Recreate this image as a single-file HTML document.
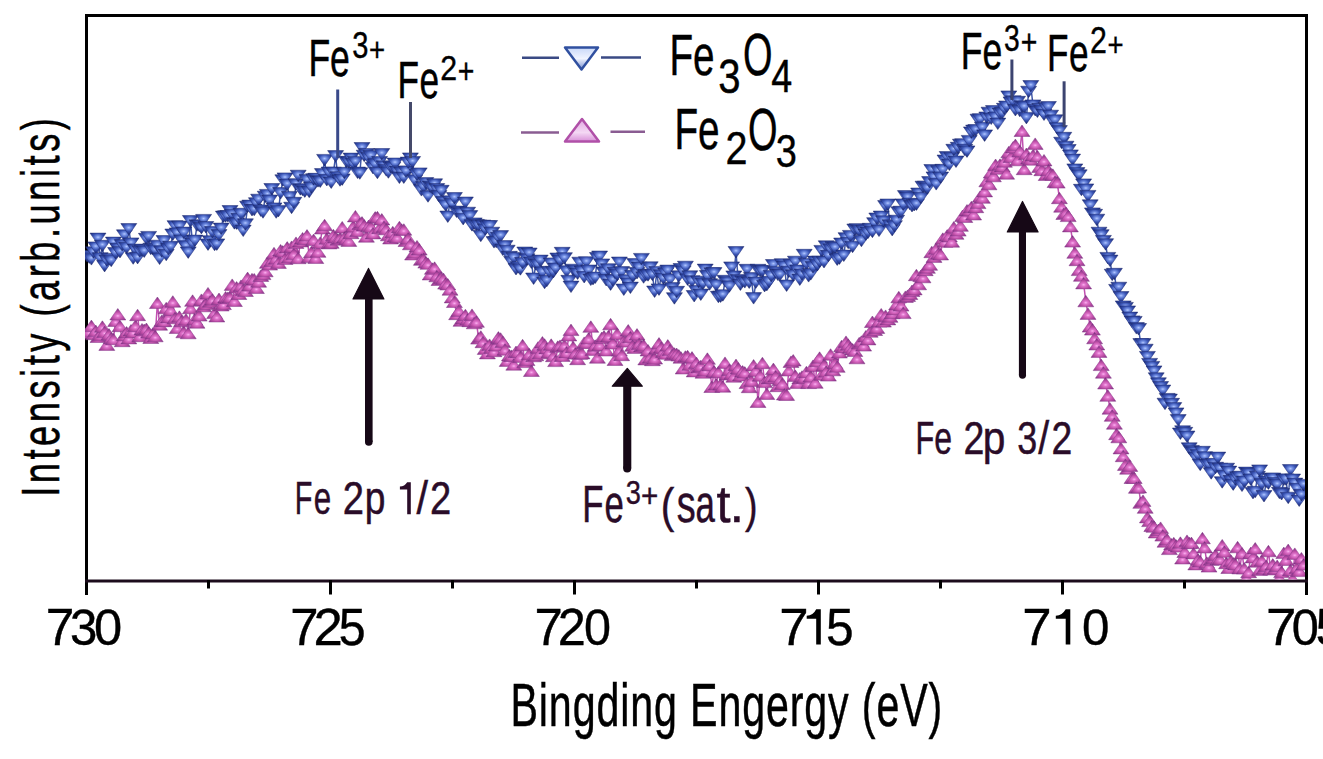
<!DOCTYPE html>
<html><head><meta charset="utf-8"><style>
html,body{margin:0;padding:0;background:#fff;overflow:hidden}
svg{display:block}
text{font-family:"Liberation Sans",sans-serif;font-kerning:none}
</style></head><body>
<svg width="1323" height="759" viewBox="0 0 1323 759">
<defs>
<radialGradient id="gb" cx="50%" cy="36%" r="58%" fx="50%" fy="36%">
<stop offset="0" stop-color="#b4c8ff"/><stop offset="0.22" stop-color="#7490e4"/><stop offset="0.55" stop-color="#3a54b4"/><stop offset="0.85" stop-color="#263a90"/><stop offset="1" stop-color="#18225e"/>
</radialGradient>
<radialGradient id="gp" cx="50%" cy="64%" r="58%" fx="50%" fy="64%">
<stop offset="0" stop-color="#fcb4f0"/><stop offset="0.22" stop-color="#e074cc"/><stop offset="0.55" stop-color="#c050a8"/><stop offset="0.85" stop-color="#9a3c92"/><stop offset="1" stop-color="#6a2a70"/>
</radialGradient>
<path id="td" d="M-8,-5.5 L8,-5.5 L0,6 Z" fill="url(#gb)" stroke="#22307a" stroke-width="0.5"/>
<path id="tu" d="M0,-6 L8,5.5 L-8,5.5 Z" fill="url(#gp)" stroke="#8c3c90" stroke-width="0.5"/>
</defs>
<rect width="1323" height="759" fill="#fff"/>

<g fill="#000">
<rect x="85" y="14" width="1223" height="3"/>
<rect x="85" y="14" width="3" height="581"/>
<rect x="1305" y="14" width="3" height="581"/>
<rect x="85" y="579.5" width="1223" height="3" fill="#1c0c1c"/>
<rect x="207.0" y="580" width="3" height="8.5"/>
<rect x="329.0" y="580" width="3" height="14.5"/>
<rect x="451.0" y="580" width="3" height="8.5"/>
<rect x="573.0" y="580" width="3" height="14.5"/>
<rect x="695.0" y="580" width="3" height="8.5"/>
<rect x="817.0" y="580" width="3" height="14.5"/>
<rect x="939.0" y="580" width="3" height="8.5"/>
<rect x="1061.0" y="580" width="3" height="14.5"/>
<rect x="1183.0" y="580" width="3" height="8.5"/>
</g>
<defs><clipPath id="pc"><rect x="85" y="17" width="1220" height="562.5"/></clipPath></defs>
<g clip-path="url(#pc)">
<path d="M87.0,255.9 L89.2,257.4 L91.4,259.1 L93.6,252.3 L95.8,247.4 L98.0,238.6 L100.2,258.2 L102.4,245.8 L104.6,265.9 L106.8,260.4 L109.0,258.9 L111.2,260.7 L113.4,242.6 L115.6,253.0 L117.8,248.8 L120.0,251.9 L122.2,245.1 L124.4,235.3 L126.6,247.8 L128.8,229.0 L131.0,243.4 L133.2,258.3 L135.4,249.6 L137.6,257.9 L139.8,251.2 L142.0,250.3 L144.2,251.5 L146.4,238.8 L148.6,236.9 L150.8,248.7 L153.0,248.9 L155.2,250.3 L157.4,245.7 L159.6,258.6 L161.8,251.2 L164.0,241.0 L166.2,254.8 L168.4,249.1 L170.6,246.8 L172.8,234.5 L175.0,226.2 L177.2,233.4 L179.4,226.5 L181.6,240.5 L183.8,232.6 L186.0,246.3 L188.2,252.4 L190.4,221.0 L192.6,243.6 L194.8,240.6 L197.0,225.3 L199.2,225.7 L201.4,227.9 L203.6,219.9 L205.8,227.0 L208.0,244.4 L210.2,241.2 L212.4,232.1 L214.6,244.8 L216.8,244.4 L219.0,235.1 L221.2,228.6 L223.4,216.6 L225.6,216.3 L227.8,216.1 L230.0,211.0 L232.2,214.7 L234.4,223.2 L236.6,223.4 L238.8,218.8 L241.0,213.8 L243.2,230.6 L245.4,224.3 L247.6,206.7 L249.8,205.6 L252.0,210.0 L254.2,209.8 L256.4,203.2 L258.6,199.7 L260.8,210.5 L263.0,212.3 L265.2,196.7 L267.4,194.9 L269.6,200.5 L271.8,189.0 L274.0,208.4 L276.2,212.3 L278.4,210.9 L280.6,193.1 L282.8,180.3 L285.0,178.4 L287.2,184.6 L289.4,196.9 L291.6,207.7 L293.8,202.8 L296.0,184.3 L298.2,175.7 L300.4,189.2 L302.6,189.7 L304.8,191.4 L307.0,180.1 L309.2,191.7 L311.4,187.5 L313.6,179.2 L315.8,178.8 L318.0,181.2 L320.2,181.5 L322.4,174.1 L324.6,159.9 L326.8,180.0 L329.0,172.6 L331.2,182.5 L333.4,172.7 L335.6,156.1 L337.8,177.2 L340.0,180.3 L342.2,179.4 L344.4,172.8 L346.6,161.8 L348.8,162.2 L351.0,158.6 L353.2,163.8 L355.4,161.9 L357.6,172.6 L359.8,173.3 L362.0,148.0 L364.2,155.7 L366.4,154.1 L368.6,157.9 L370.8,156.1 L373.0,167.9 L375.2,164.3 L377.4,172.8 L379.6,162.0 L381.8,154.0 L384.0,166.3 L386.2,170.1 L388.4,172.3 L390.6,167.0 L392.8,167.7 L395.0,163.5 L397.2,171.6 L399.4,177.6 L401.6,172.6 L403.8,177.5 L406.0,171.6 L408.2,162.6 L410.4,158.4 L412.6,162.0 L414.8,180.3 L417.0,174.7 L419.2,173.4 L421.4,190.1 L423.6,187.0 L425.8,183.1 L428.0,196.3 L430.2,186.5 L432.4,187.9 L434.6,184.3 L436.8,189.1 L439.0,196.1 L441.2,190.8 L443.4,202.1 L445.6,205.3 L447.8,216.5 L450.0,201.3 L452.2,203.7 L454.4,198.0 L456.6,211.6 L458.8,212.4 L461.0,213.4 L463.2,218.9 L465.4,202.5 L467.6,212.7 L469.8,216.1 L472.0,225.2 L474.2,223.4 L476.4,224.9 L478.6,225.4 L480.8,235.7 L483.0,225.6 L485.2,229.3 L487.4,226.3 L489.6,226.0 L491.8,232.7 L494.0,242.1 L496.2,241.8 L498.4,237.7 L500.6,236.1 L502.8,249.6 L505.0,246.1 L507.2,250.7 L509.4,256.8 L511.6,261.9 L513.8,258.0 L516.0,269.0 L518.2,267.2 L520.4,269.2 L522.6,263.0 L524.8,252.5 L527.0,259.3 L529.2,253.5 L531.4,262.5 L533.6,278.5 L535.8,264.2 L538.0,264.7 L540.2,260.6 L542.4,272.4 L544.6,282.8 L546.8,280.8 L549.0,271.8 L551.2,263.4 L553.4,271.9 L555.6,268.6 L557.8,258.5 L560.0,260.5 L562.2,252.8 L564.4,258.2 L566.6,271.3 L568.8,280.8 L571.0,286.6 L573.2,269.7 L575.4,270.9 L577.6,273.5 L579.8,262.7 L582.0,271.6 L584.2,277.0 L586.4,262.2 L588.6,270.5 L590.8,279.6 L593.0,278.9 L595.2,277.6 L597.4,258.0 L599.6,256.5 L601.8,264.4 L604.0,272.6 L606.2,280.0 L608.4,269.2 L610.6,284.4 L612.8,280.3 L615.0,272.8 L617.2,274.7 L619.4,262.5 L621.6,272.1 L623.8,289.5 L626.0,280.2 L628.2,283.4 L630.4,287.6 L632.6,275.8 L634.8,264.1 L637.0,273.0 L639.2,267.6 L641.4,258.9 L643.6,277.3 L645.8,275.1 L648.0,275.2 L650.2,267.3 L652.4,274.7 L654.6,291.5 L656.8,271.9 L659.0,289.4 L661.2,275.2 L663.4,278.5 L665.6,273.5 L667.8,270.6 L670.0,279.5 L672.2,288.1 L674.4,298.2 L676.6,291.8 L678.8,276.3 L681.0,269.0 L683.2,271.3 L685.4,266.7 L687.6,279.4 L689.8,276.3 L692.0,281.2 L694.2,296.0 L696.4,291.0 L698.6,281.7 L700.8,294.5 L703.0,283.5 L705.2,269.6 L707.4,276.0 L709.6,284.3 L711.8,273.3 L714.0,273.1 L716.2,285.2 L718.4,296.8 L720.6,296.5 L722.8,295.2 L725.0,280.8 L727.2,282.3 L729.4,286.3 L731.6,267.4 L733.8,276.4 L736.0,252.0 L738.2,280.1 L740.4,284.5 L742.6,281.3 L744.8,282.1 L747.0,269.8 L749.2,282.5 L751.4,278.1 L753.6,298.1 L755.8,282.5 L758.0,269.8 L760.2,271.0 L762.4,271.1 L764.6,285.9 L766.8,284.9 L769.0,281.8 L771.2,275.9 L773.4,265.0 L775.6,272.2 L777.8,274.5 L780.0,274.8 L782.2,264.2 L784.4,266.5 L786.6,285.5 L788.8,271.7 L791.0,264.9 L793.2,275.3 L795.4,261.7 L797.6,270.5 L799.8,279.5 L802.0,274.4 L804.2,254.8 L806.4,263.9 L808.6,276.1 L810.8,274.1 L813.0,267.1 L815.2,261.6 L817.4,265.0 L819.6,261.7 L821.8,250.9 L824.0,262.0 L826.2,246.3 L828.4,255.8 L830.6,249.2 L832.8,247.1 L835.0,247.9 L837.2,259.5 L839.4,258.4 L841.6,243.5 L843.8,255.6 L846.0,238.2 L848.2,242.8 L850.4,235.9 L852.6,246.7 L854.8,229.5 L857.0,229.3 L859.2,230.7 L861.4,240.8 L863.6,230.7 L865.8,234.5 L868.0,232.6 L870.2,228.8 L872.4,231.7 L874.6,223.2 L876.8,218.5 L879.0,230.6 L881.2,216.5 L883.4,221.3 L885.6,206.1 L887.8,204.5 L890.0,225.2 L892.2,229.9 L894.4,226.2 L896.6,220.7 L898.8,212.3 L901.0,211.7 L903.2,204.4 L905.4,196.1 L907.6,197.6 L909.8,203.8 L912.0,206.0 L914.2,205.0 L916.4,204.4 L918.6,193.5 L920.8,197.7 L923.0,186.7 L925.2,186.7 L927.4,188.3 L929.6,182.1 L931.8,170.0 L934.0,177.4 L936.2,184.1 L938.4,171.1 L940.6,177.5 L942.8,169.8 L945.0,160.5 L947.2,157.0 L949.4,164.5 L951.6,158.0 L953.8,149.8 L956.0,161.5 L958.2,147.8 L960.4,144.7 L962.6,144.3 L964.8,149.8 L967.0,151.4 L969.2,140.9 L971.4,132.4 L973.6,130.6 L975.8,130.1 L978.0,119.7 L980.2,119.2 L982.4,127.7 L984.6,135.4 L986.8,117.5 L989.0,112.7 L991.2,118.6 L993.4,111.1 L995.6,117.5 L997.8,123.6 L1000.0,113.5 L1002.2,113.1 L1004.4,108.8 L1006.6,106.5 L1008.8,96.4 L1011.0,102.4 L1013.2,101.3 L1015.4,110.0 L1017.6,101.8 L1019.8,110.8 L1022.0,106.2 L1024.2,107.1 L1026.4,117.9 L1028.6,91.7 L1030.8,86.0 L1033.0,105.4 L1035.2,110.0 L1037.4,111.6 L1039.6,108.8 L1041.8,111.0 L1044.0,114.5 L1046.2,108.1 L1048.4,107.0 L1050.6,115.7 L1052.8,121.3 L1055.0,120.3 L1057.2,128.2 L1059.4,131.1 L1061.6,142.7 L1063.8,137.8 L1066.0,146.7 L1068.2,150.0 L1070.4,155.4 L1072.6,159.6 L1074.8,169.4 L1077.0,173.1 L1079.2,175.3 L1081.4,189.8 L1083.6,184.4 L1085.8,189.4 L1088.0,195.9 L1090.2,205.3 L1092.4,213.4 L1094.6,214.8 L1096.8,219.7 L1099.0,232.7 L1101.2,235.2 L1103.4,240.9 L1105.6,244.2 L1107.8,257.9 L1110.0,260.6 L1112.2,274.7 L1114.4,273.8 L1116.6,289.9 L1118.8,287.7 L1121.0,297.0 L1123.2,306.4 L1125.4,307.9 L1127.6,311.4 L1129.8,317.6 L1132.0,321.4 L1134.2,321.9 L1136.4,328.1 L1138.6,329.0 L1140.8,344.1 L1143.0,344.1 L1145.2,349.7 L1147.4,356.9 L1149.6,363.9 L1151.8,366.9 L1154.0,371.4 L1156.2,378.3 L1158.4,383.3 L1160.6,387.0 L1162.8,390.5 L1165.0,403.7 L1167.2,398.9 L1169.4,399.6 L1171.6,403.8 L1173.8,408.1 L1176.0,413.4 L1178.2,420.1 L1180.4,433.5 L1182.6,431.3 L1184.8,432.8 L1187.0,436.5 L1189.2,448.3 L1191.4,450.9 L1193.6,452.3 L1195.8,457.5 L1198.0,455.1 L1200.2,464.7 L1202.4,451.8 L1204.6,457.2 L1206.8,464.4 L1209.0,464.6 L1211.2,473.2 L1213.4,463.9 L1215.6,467.7 L1217.8,457.6 L1220.0,468.8 L1222.2,482.2 L1224.4,476.1 L1226.6,468.7 L1228.8,471.6 L1231.0,480.8 L1233.2,484.4 L1235.4,479.4 L1237.6,477.3 L1239.8,476.7 L1242.0,485.6 L1244.2,481.5 L1246.4,472.6 L1248.6,473.8 L1250.8,479.5 L1253.0,492.9 L1255.2,491.8 L1257.4,476.7 L1259.6,470.4 L1261.8,484.2 L1264.0,496.0 L1266.2,481.6 L1268.4,483.4 L1270.6,478.8 L1272.8,478.5 L1275.0,483.1 L1277.2,484.8 L1279.4,492.8 L1281.6,494.0 L1283.8,479.6 L1286.0,479.4 L1288.2,497.7 L1290.4,470.0 L1292.6,479.5 L1294.8,483.6 L1297.0,488.8 L1299.2,500.5 L1301.4,495.1 L1303.6,484.9" fill="none" stroke="#4058a8" stroke-width="1.5"/>
<g><use href="#td" x="87.0" y="255.9"/><use href="#td" x="89.2" y="257.4"/><use href="#td" x="91.4" y="259.1"/><use href="#td" x="93.6" y="252.3"/><use href="#td" x="95.8" y="247.4"/><use href="#td" x="98.0" y="238.6"/><use href="#td" x="100.2" y="258.2"/><use href="#td" x="102.4" y="245.8"/><use href="#td" x="104.6" y="265.9"/><use href="#td" x="106.8" y="260.4"/><use href="#td" x="109.0" y="258.9"/><use href="#td" x="111.2" y="260.7"/><use href="#td" x="113.4" y="242.6"/><use href="#td" x="115.6" y="253.0"/><use href="#td" x="117.8" y="248.8"/><use href="#td" x="120.0" y="251.9"/><use href="#td" x="122.2" y="245.1"/><use href="#td" x="124.4" y="235.3"/><use href="#td" x="126.6" y="247.8"/><use href="#td" x="128.8" y="229.0"/><use href="#td" x="131.0" y="243.4"/><use href="#td" x="133.2" y="258.3"/><use href="#td" x="135.4" y="249.6"/><use href="#td" x="137.6" y="257.9"/><use href="#td" x="139.8" y="251.2"/><use href="#td" x="142.0" y="250.3"/><use href="#td" x="144.2" y="251.5"/><use href="#td" x="146.4" y="238.8"/><use href="#td" x="148.6" y="236.9"/><use href="#td" x="150.8" y="248.7"/><use href="#td" x="153.0" y="248.9"/><use href="#td" x="155.2" y="250.3"/><use href="#td" x="157.4" y="245.7"/><use href="#td" x="159.6" y="258.6"/><use href="#td" x="161.8" y="251.2"/><use href="#td" x="164.0" y="241.0"/><use href="#td" x="166.2" y="254.8"/><use href="#td" x="168.4" y="249.1"/><use href="#td" x="170.6" y="246.8"/><use href="#td" x="172.8" y="234.5"/><use href="#td" x="175.0" y="226.2"/><use href="#td" x="177.2" y="233.4"/><use href="#td" x="179.4" y="226.5"/><use href="#td" x="181.6" y="240.5"/><use href="#td" x="183.8" y="232.6"/><use href="#td" x="186.0" y="246.3"/><use href="#td" x="188.2" y="252.4"/><use href="#td" x="190.4" y="221.0"/><use href="#td" x="192.6" y="243.6"/><use href="#td" x="194.8" y="240.6"/><use href="#td" x="197.0" y="225.3"/><use href="#td" x="199.2" y="225.7"/><use href="#td" x="201.4" y="227.9"/><use href="#td" x="203.6" y="219.9"/><use href="#td" x="205.8" y="227.0"/><use href="#td" x="208.0" y="244.4"/><use href="#td" x="210.2" y="241.2"/><use href="#td" x="212.4" y="232.1"/><use href="#td" x="214.6" y="244.8"/><use href="#td" x="216.8" y="244.4"/><use href="#td" x="219.0" y="235.1"/><use href="#td" x="221.2" y="228.6"/><use href="#td" x="223.4" y="216.6"/><use href="#td" x="225.6" y="216.3"/><use href="#td" x="227.8" y="216.1"/><use href="#td" x="230.0" y="211.0"/><use href="#td" x="232.2" y="214.7"/><use href="#td" x="234.4" y="223.2"/><use href="#td" x="236.6" y="223.4"/><use href="#td" x="238.8" y="218.8"/><use href="#td" x="241.0" y="213.8"/><use href="#td" x="243.2" y="230.6"/><use href="#td" x="245.4" y="224.3"/><use href="#td" x="247.6" y="206.7"/><use href="#td" x="249.8" y="205.6"/><use href="#td" x="252.0" y="210.0"/><use href="#td" x="254.2" y="209.8"/><use href="#td" x="256.4" y="203.2"/><use href="#td" x="258.6" y="199.7"/><use href="#td" x="260.8" y="210.5"/><use href="#td" x="263.0" y="212.3"/><use href="#td" x="265.2" y="196.7"/><use href="#td" x="267.4" y="194.9"/><use href="#td" x="269.6" y="200.5"/><use href="#td" x="271.8" y="189.0"/><use href="#td" x="274.0" y="208.4"/><use href="#td" x="276.2" y="212.3"/><use href="#td" x="278.4" y="210.9"/><use href="#td" x="280.6" y="193.1"/><use href="#td" x="282.8" y="180.3"/><use href="#td" x="285.0" y="178.4"/><use href="#td" x="287.2" y="184.6"/><use href="#td" x="289.4" y="196.9"/><use href="#td" x="291.6" y="207.7"/><use href="#td" x="293.8" y="202.8"/><use href="#td" x="296.0" y="184.3"/><use href="#td" x="298.2" y="175.7"/><use href="#td" x="300.4" y="189.2"/><use href="#td" x="302.6" y="189.7"/><use href="#td" x="304.8" y="191.4"/><use href="#td" x="307.0" y="180.1"/><use href="#td" x="309.2" y="191.7"/><use href="#td" x="311.4" y="187.5"/><use href="#td" x="313.6" y="179.2"/><use href="#td" x="315.8" y="178.8"/><use href="#td" x="318.0" y="181.2"/><use href="#td" x="320.2" y="181.5"/><use href="#td" x="322.4" y="174.1"/><use href="#td" x="324.6" y="159.9"/><use href="#td" x="326.8" y="180.0"/><use href="#td" x="329.0" y="172.6"/><use href="#td" x="331.2" y="182.5"/><use href="#td" x="333.4" y="172.7"/><use href="#td" x="335.6" y="156.1"/><use href="#td" x="337.8" y="177.2"/><use href="#td" x="340.0" y="180.3"/><use href="#td" x="342.2" y="179.4"/><use href="#td" x="344.4" y="172.8"/><use href="#td" x="346.6" y="161.8"/><use href="#td" x="348.8" y="162.2"/><use href="#td" x="351.0" y="158.6"/><use href="#td" x="353.2" y="163.8"/><use href="#td" x="355.4" y="161.9"/><use href="#td" x="357.6" y="172.6"/><use href="#td" x="359.8" y="173.3"/><use href="#td" x="362.0" y="148.0"/><use href="#td" x="364.2" y="155.7"/><use href="#td" x="366.4" y="154.1"/><use href="#td" x="368.6" y="157.9"/><use href="#td" x="370.8" y="156.1"/><use href="#td" x="373.0" y="167.9"/><use href="#td" x="375.2" y="164.3"/><use href="#td" x="377.4" y="172.8"/><use href="#td" x="379.6" y="162.0"/><use href="#td" x="381.8" y="154.0"/><use href="#td" x="384.0" y="166.3"/><use href="#td" x="386.2" y="170.1"/><use href="#td" x="388.4" y="172.3"/><use href="#td" x="390.6" y="167.0"/><use href="#td" x="392.8" y="167.7"/><use href="#td" x="395.0" y="163.5"/><use href="#td" x="397.2" y="171.6"/><use href="#td" x="399.4" y="177.6"/><use href="#td" x="401.6" y="172.6"/><use href="#td" x="403.8" y="177.5"/><use href="#td" x="406.0" y="171.6"/><use href="#td" x="408.2" y="162.6"/><use href="#td" x="410.4" y="158.4"/><use href="#td" x="412.6" y="162.0"/><use href="#td" x="414.8" y="180.3"/><use href="#td" x="417.0" y="174.7"/><use href="#td" x="419.2" y="173.4"/><use href="#td" x="421.4" y="190.1"/><use href="#td" x="423.6" y="187.0"/><use href="#td" x="425.8" y="183.1"/><use href="#td" x="428.0" y="196.3"/><use href="#td" x="430.2" y="186.5"/><use href="#td" x="432.4" y="187.9"/><use href="#td" x="434.6" y="184.3"/><use href="#td" x="436.8" y="189.1"/><use href="#td" x="439.0" y="196.1"/><use href="#td" x="441.2" y="190.8"/><use href="#td" x="443.4" y="202.1"/><use href="#td" x="445.6" y="205.3"/><use href="#td" x="447.8" y="216.5"/><use href="#td" x="450.0" y="201.3"/><use href="#td" x="452.2" y="203.7"/><use href="#td" x="454.4" y="198.0"/><use href="#td" x="456.6" y="211.6"/><use href="#td" x="458.8" y="212.4"/><use href="#td" x="461.0" y="213.4"/><use href="#td" x="463.2" y="218.9"/><use href="#td" x="465.4" y="202.5"/><use href="#td" x="467.6" y="212.7"/><use href="#td" x="469.8" y="216.1"/><use href="#td" x="472.0" y="225.2"/><use href="#td" x="474.2" y="223.4"/><use href="#td" x="476.4" y="224.9"/><use href="#td" x="478.6" y="225.4"/><use href="#td" x="480.8" y="235.7"/><use href="#td" x="483.0" y="225.6"/><use href="#td" x="485.2" y="229.3"/><use href="#td" x="487.4" y="226.3"/><use href="#td" x="489.6" y="226.0"/><use href="#td" x="491.8" y="232.7"/><use href="#td" x="494.0" y="242.1"/><use href="#td" x="496.2" y="241.8"/><use href="#td" x="498.4" y="237.7"/><use href="#td" x="500.6" y="236.1"/><use href="#td" x="502.8" y="249.6"/><use href="#td" x="505.0" y="246.1"/><use href="#td" x="507.2" y="250.7"/><use href="#td" x="509.4" y="256.8"/><use href="#td" x="511.6" y="261.9"/><use href="#td" x="513.8" y="258.0"/><use href="#td" x="516.0" y="269.0"/><use href="#td" x="518.2" y="267.2"/><use href="#td" x="520.4" y="269.2"/><use href="#td" x="522.6" y="263.0"/><use href="#td" x="524.8" y="252.5"/><use href="#td" x="527.0" y="259.3"/><use href="#td" x="529.2" y="253.5"/><use href="#td" x="531.4" y="262.5"/><use href="#td" x="533.6" y="278.5"/><use href="#td" x="535.8" y="264.2"/><use href="#td" x="538.0" y="264.7"/><use href="#td" x="540.2" y="260.6"/><use href="#td" x="542.4" y="272.4"/><use href="#td" x="544.6" y="282.8"/><use href="#td" x="546.8" y="280.8"/><use href="#td" x="549.0" y="271.8"/><use href="#td" x="551.2" y="263.4"/><use href="#td" x="553.4" y="271.9"/><use href="#td" x="555.6" y="268.6"/><use href="#td" x="557.8" y="258.5"/><use href="#td" x="560.0" y="260.5"/><use href="#td" x="562.2" y="252.8"/><use href="#td" x="564.4" y="258.2"/><use href="#td" x="566.6" y="271.3"/><use href="#td" x="568.8" y="280.8"/><use href="#td" x="571.0" y="286.6"/><use href="#td" x="573.2" y="269.7"/><use href="#td" x="575.4" y="270.9"/><use href="#td" x="577.6" y="273.5"/><use href="#td" x="579.8" y="262.7"/><use href="#td" x="582.0" y="271.6"/><use href="#td" x="584.2" y="277.0"/><use href="#td" x="586.4" y="262.2"/><use href="#td" x="588.6" y="270.5"/><use href="#td" x="590.8" y="279.6"/><use href="#td" x="593.0" y="278.9"/><use href="#td" x="595.2" y="277.6"/><use href="#td" x="597.4" y="258.0"/><use href="#td" x="599.6" y="256.5"/><use href="#td" x="601.8" y="264.4"/><use href="#td" x="604.0" y="272.6"/><use href="#td" x="606.2" y="280.0"/><use href="#td" x="608.4" y="269.2"/><use href="#td" x="610.6" y="284.4"/><use href="#td" x="612.8" y="280.3"/><use href="#td" x="615.0" y="272.8"/><use href="#td" x="617.2" y="274.7"/><use href="#td" x="619.4" y="262.5"/><use href="#td" x="621.6" y="272.1"/><use href="#td" x="623.8" y="289.5"/><use href="#td" x="626.0" y="280.2"/><use href="#td" x="628.2" y="283.4"/><use href="#td" x="630.4" y="287.6"/><use href="#td" x="632.6" y="275.8"/><use href="#td" x="634.8" y="264.1"/><use href="#td" x="637.0" y="273.0"/><use href="#td" x="639.2" y="267.6"/><use href="#td" x="641.4" y="258.9"/><use href="#td" x="643.6" y="277.3"/><use href="#td" x="645.8" y="275.1"/><use href="#td" x="648.0" y="275.2"/><use href="#td" x="650.2" y="267.3"/><use href="#td" x="652.4" y="274.7"/><use href="#td" x="654.6" y="291.5"/><use href="#td" x="656.8" y="271.9"/><use href="#td" x="659.0" y="289.4"/><use href="#td" x="661.2" y="275.2"/><use href="#td" x="663.4" y="278.5"/><use href="#td" x="665.6" y="273.5"/><use href="#td" x="667.8" y="270.6"/><use href="#td" x="670.0" y="279.5"/><use href="#td" x="672.2" y="288.1"/><use href="#td" x="674.4" y="298.2"/><use href="#td" x="676.6" y="291.8"/><use href="#td" x="678.8" y="276.3"/><use href="#td" x="681.0" y="269.0"/><use href="#td" x="683.2" y="271.3"/><use href="#td" x="685.4" y="266.7"/><use href="#td" x="687.6" y="279.4"/><use href="#td" x="689.8" y="276.3"/><use href="#td" x="692.0" y="281.2"/><use href="#td" x="694.2" y="296.0"/><use href="#td" x="696.4" y="291.0"/><use href="#td" x="698.6" y="281.7"/><use href="#td" x="700.8" y="294.5"/><use href="#td" x="703.0" y="283.5"/><use href="#td" x="705.2" y="269.6"/><use href="#td" x="707.4" y="276.0"/><use href="#td" x="709.6" y="284.3"/><use href="#td" x="711.8" y="273.3"/><use href="#td" x="714.0" y="273.1"/><use href="#td" x="716.2" y="285.2"/><use href="#td" x="718.4" y="296.8"/><use href="#td" x="720.6" y="296.5"/><use href="#td" x="722.8" y="295.2"/><use href="#td" x="725.0" y="280.8"/><use href="#td" x="727.2" y="282.3"/><use href="#td" x="729.4" y="286.3"/><use href="#td" x="731.6" y="267.4"/><use href="#td" x="733.8" y="276.4"/><use href="#td" x="736.0" y="252.0"/><use href="#td" x="738.2" y="280.1"/><use href="#td" x="740.4" y="284.5"/><use href="#td" x="742.6" y="281.3"/><use href="#td" x="744.8" y="282.1"/><use href="#td" x="747.0" y="269.8"/><use href="#td" x="749.2" y="282.5"/><use href="#td" x="751.4" y="278.1"/><use href="#td" x="753.6" y="298.1"/><use href="#td" x="755.8" y="282.5"/><use href="#td" x="758.0" y="269.8"/><use href="#td" x="760.2" y="271.0"/><use href="#td" x="762.4" y="271.1"/><use href="#td" x="764.6" y="285.9"/><use href="#td" x="766.8" y="284.9"/><use href="#td" x="769.0" y="281.8"/><use href="#td" x="771.2" y="275.9"/><use href="#td" x="773.4" y="265.0"/><use href="#td" x="775.6" y="272.2"/><use href="#td" x="777.8" y="274.5"/><use href="#td" x="780.0" y="274.8"/><use href="#td" x="782.2" y="264.2"/><use href="#td" x="784.4" y="266.5"/><use href="#td" x="786.6" y="285.5"/><use href="#td" x="788.8" y="271.7"/><use href="#td" x="791.0" y="264.9"/><use href="#td" x="793.2" y="275.3"/><use href="#td" x="795.4" y="261.7"/><use href="#td" x="797.6" y="270.5"/><use href="#td" x="799.8" y="279.5"/><use href="#td" x="802.0" y="274.4"/><use href="#td" x="804.2" y="254.8"/><use href="#td" x="806.4" y="263.9"/><use href="#td" x="808.6" y="276.1"/><use href="#td" x="810.8" y="274.1"/><use href="#td" x="813.0" y="267.1"/><use href="#td" x="815.2" y="261.6"/><use href="#td" x="817.4" y="265.0"/><use href="#td" x="819.6" y="261.7"/><use href="#td" x="821.8" y="250.9"/><use href="#td" x="824.0" y="262.0"/><use href="#td" x="826.2" y="246.3"/><use href="#td" x="828.4" y="255.8"/><use href="#td" x="830.6" y="249.2"/><use href="#td" x="832.8" y="247.1"/><use href="#td" x="835.0" y="247.9"/><use href="#td" x="837.2" y="259.5"/><use href="#td" x="839.4" y="258.4"/><use href="#td" x="841.6" y="243.5"/><use href="#td" x="843.8" y="255.6"/><use href="#td" x="846.0" y="238.2"/><use href="#td" x="848.2" y="242.8"/><use href="#td" x="850.4" y="235.9"/><use href="#td" x="852.6" y="246.7"/><use href="#td" x="854.8" y="229.5"/><use href="#td" x="857.0" y="229.3"/><use href="#td" x="859.2" y="230.7"/><use href="#td" x="861.4" y="240.8"/><use href="#td" x="863.6" y="230.7"/><use href="#td" x="865.8" y="234.5"/><use href="#td" x="868.0" y="232.6"/><use href="#td" x="870.2" y="228.8"/><use href="#td" x="872.4" y="231.7"/><use href="#td" x="874.6" y="223.2"/><use href="#td" x="876.8" y="218.5"/><use href="#td" x="879.0" y="230.6"/><use href="#td" x="881.2" y="216.5"/><use href="#td" x="883.4" y="221.3"/><use href="#td" x="885.6" y="206.1"/><use href="#td" x="887.8" y="204.5"/><use href="#td" x="890.0" y="225.2"/><use href="#td" x="892.2" y="229.9"/><use href="#td" x="894.4" y="226.2"/><use href="#td" x="896.6" y="220.7"/><use href="#td" x="898.8" y="212.3"/><use href="#td" x="901.0" y="211.7"/><use href="#td" x="903.2" y="204.4"/><use href="#td" x="905.4" y="196.1"/><use href="#td" x="907.6" y="197.6"/><use href="#td" x="909.8" y="203.8"/><use href="#td" x="912.0" y="206.0"/><use href="#td" x="914.2" y="205.0"/><use href="#td" x="916.4" y="204.4"/><use href="#td" x="918.6" y="193.5"/><use href="#td" x="920.8" y="197.7"/><use href="#td" x="923.0" y="186.7"/><use href="#td" x="925.2" y="186.7"/><use href="#td" x="927.4" y="188.3"/><use href="#td" x="929.6" y="182.1"/><use href="#td" x="931.8" y="170.0"/><use href="#td" x="934.0" y="177.4"/><use href="#td" x="936.2" y="184.1"/><use href="#td" x="938.4" y="171.1"/><use href="#td" x="940.6" y="177.5"/><use href="#td" x="942.8" y="169.8"/><use href="#td" x="945.0" y="160.5"/><use href="#td" x="947.2" y="157.0"/><use href="#td" x="949.4" y="164.5"/><use href="#td" x="951.6" y="158.0"/><use href="#td" x="953.8" y="149.8"/><use href="#td" x="956.0" y="161.5"/><use href="#td" x="958.2" y="147.8"/><use href="#td" x="960.4" y="144.7"/><use href="#td" x="962.6" y="144.3"/><use href="#td" x="964.8" y="149.8"/><use href="#td" x="967.0" y="151.4"/><use href="#td" x="969.2" y="140.9"/><use href="#td" x="971.4" y="132.4"/><use href="#td" x="973.6" y="130.6"/><use href="#td" x="975.8" y="130.1"/><use href="#td" x="978.0" y="119.7"/><use href="#td" x="980.2" y="119.2"/><use href="#td" x="982.4" y="127.7"/><use href="#td" x="984.6" y="135.4"/><use href="#td" x="986.8" y="117.5"/><use href="#td" x="989.0" y="112.7"/><use href="#td" x="991.2" y="118.6"/><use href="#td" x="993.4" y="111.1"/><use href="#td" x="995.6" y="117.5"/><use href="#td" x="997.8" y="123.6"/><use href="#td" x="1000.0" y="113.5"/><use href="#td" x="1002.2" y="113.1"/><use href="#td" x="1004.4" y="108.8"/><use href="#td" x="1006.6" y="106.5"/><use href="#td" x="1008.8" y="96.4"/><use href="#td" x="1011.0" y="102.4"/><use href="#td" x="1013.2" y="101.3"/><use href="#td" x="1015.4" y="110.0"/><use href="#td" x="1017.6" y="101.8"/><use href="#td" x="1019.8" y="110.8"/><use href="#td" x="1022.0" y="106.2"/><use href="#td" x="1024.2" y="107.1"/><use href="#td" x="1026.4" y="117.9"/><use href="#td" x="1028.6" y="91.7"/><use href="#td" x="1030.8" y="86.0"/><use href="#td" x="1033.0" y="105.4"/><use href="#td" x="1035.2" y="110.0"/><use href="#td" x="1037.4" y="111.6"/><use href="#td" x="1039.6" y="108.8"/><use href="#td" x="1041.8" y="111.0"/><use href="#td" x="1044.0" y="114.5"/><use href="#td" x="1046.2" y="108.1"/><use href="#td" x="1048.4" y="107.0"/><use href="#td" x="1050.6" y="115.7"/><use href="#td" x="1052.8" y="121.3"/><use href="#td" x="1055.0" y="120.3"/><use href="#td" x="1057.2" y="128.2"/><use href="#td" x="1059.4" y="131.1"/><use href="#td" x="1061.6" y="142.7"/><use href="#td" x="1063.8" y="137.8"/><use href="#td" x="1066.0" y="146.7"/><use href="#td" x="1068.2" y="150.0"/><use href="#td" x="1070.4" y="155.4"/><use href="#td" x="1072.6" y="159.6"/><use href="#td" x="1074.8" y="169.4"/><use href="#td" x="1077.0" y="173.1"/><use href="#td" x="1079.2" y="175.3"/><use href="#td" x="1081.4" y="189.8"/><use href="#td" x="1083.6" y="184.4"/><use href="#td" x="1085.8" y="189.4"/><use href="#td" x="1088.0" y="195.9"/><use href="#td" x="1090.2" y="205.3"/><use href="#td" x="1092.4" y="213.4"/><use href="#td" x="1094.6" y="214.8"/><use href="#td" x="1096.8" y="219.7"/><use href="#td" x="1099.0" y="232.7"/><use href="#td" x="1101.2" y="235.2"/><use href="#td" x="1103.4" y="240.9"/><use href="#td" x="1105.6" y="244.2"/><use href="#td" x="1107.8" y="257.9"/><use href="#td" x="1110.0" y="260.6"/><use href="#td" x="1112.2" y="274.7"/><use href="#td" x="1114.4" y="273.8"/><use href="#td" x="1116.6" y="289.9"/><use href="#td" x="1118.8" y="287.7"/><use href="#td" x="1121.0" y="297.0"/><use href="#td" x="1123.2" y="306.4"/><use href="#td" x="1125.4" y="307.9"/><use href="#td" x="1127.6" y="311.4"/><use href="#td" x="1129.8" y="317.6"/><use href="#td" x="1132.0" y="321.4"/><use href="#td" x="1134.2" y="321.9"/><use href="#td" x="1136.4" y="328.1"/><use href="#td" x="1138.6" y="329.0"/><use href="#td" x="1140.8" y="344.1"/><use href="#td" x="1143.0" y="344.1"/><use href="#td" x="1145.2" y="349.7"/><use href="#td" x="1147.4" y="356.9"/><use href="#td" x="1149.6" y="363.9"/><use href="#td" x="1151.8" y="366.9"/><use href="#td" x="1154.0" y="371.4"/><use href="#td" x="1156.2" y="378.3"/><use href="#td" x="1158.4" y="383.3"/><use href="#td" x="1160.6" y="387.0"/><use href="#td" x="1162.8" y="390.5"/><use href="#td" x="1165.0" y="403.7"/><use href="#td" x="1167.2" y="398.9"/><use href="#td" x="1169.4" y="399.6"/><use href="#td" x="1171.6" y="403.8"/><use href="#td" x="1173.8" y="408.1"/><use href="#td" x="1176.0" y="413.4"/><use href="#td" x="1178.2" y="420.1"/><use href="#td" x="1180.4" y="433.5"/><use href="#td" x="1182.6" y="431.3"/><use href="#td" x="1184.8" y="432.8"/><use href="#td" x="1187.0" y="436.5"/><use href="#td" x="1189.2" y="448.3"/><use href="#td" x="1191.4" y="450.9"/><use href="#td" x="1193.6" y="452.3"/><use href="#td" x="1195.8" y="457.5"/><use href="#td" x="1198.0" y="455.1"/><use href="#td" x="1200.2" y="464.7"/><use href="#td" x="1202.4" y="451.8"/><use href="#td" x="1204.6" y="457.2"/><use href="#td" x="1206.8" y="464.4"/><use href="#td" x="1209.0" y="464.6"/><use href="#td" x="1211.2" y="473.2"/><use href="#td" x="1213.4" y="463.9"/><use href="#td" x="1215.6" y="467.7"/><use href="#td" x="1217.8" y="457.6"/><use href="#td" x="1220.0" y="468.8"/><use href="#td" x="1222.2" y="482.2"/><use href="#td" x="1224.4" y="476.1"/><use href="#td" x="1226.6" y="468.7"/><use href="#td" x="1228.8" y="471.6"/><use href="#td" x="1231.0" y="480.8"/><use href="#td" x="1233.2" y="484.4"/><use href="#td" x="1235.4" y="479.4"/><use href="#td" x="1237.6" y="477.3"/><use href="#td" x="1239.8" y="476.7"/><use href="#td" x="1242.0" y="485.6"/><use href="#td" x="1244.2" y="481.5"/><use href="#td" x="1246.4" y="472.6"/><use href="#td" x="1248.6" y="473.8"/><use href="#td" x="1250.8" y="479.5"/><use href="#td" x="1253.0" y="492.9"/><use href="#td" x="1255.2" y="491.8"/><use href="#td" x="1257.4" y="476.7"/><use href="#td" x="1259.6" y="470.4"/><use href="#td" x="1261.8" y="484.2"/><use href="#td" x="1264.0" y="496.0"/><use href="#td" x="1266.2" y="481.6"/><use href="#td" x="1268.4" y="483.4"/><use href="#td" x="1270.6" y="478.8"/><use href="#td" x="1272.8" y="478.5"/><use href="#td" x="1275.0" y="483.1"/><use href="#td" x="1277.2" y="484.8"/><use href="#td" x="1279.4" y="492.8"/><use href="#td" x="1281.6" y="494.0"/><use href="#td" x="1283.8" y="479.6"/><use href="#td" x="1286.0" y="479.4"/><use href="#td" x="1288.2" y="497.7"/><use href="#td" x="1290.4" y="470.0"/><use href="#td" x="1292.6" y="479.5"/><use href="#td" x="1294.8" y="483.6"/><use href="#td" x="1297.0" y="488.8"/><use href="#td" x="1299.2" y="500.5"/><use href="#td" x="1301.4" y="495.1"/><use href="#td" x="1303.6" y="484.9"/></g>
<path d="M87.0,332.9 L89.2,331.7 L91.4,326.1 L93.6,334.2 L95.8,331.1 L98.0,337.0 L100.2,335.1 L102.4,326.8 L104.6,332.0 L106.8,344.9 L109.0,334.6 L111.2,338.2 L113.4,339.2 L115.6,321.0 L117.8,314.5 L120.0,326.2 L122.2,341.2 L124.4,335.2 L126.6,332.5 L128.8,338.4 L131.0,330.5 L133.2,332.0 L135.4,326.0 L137.6,315.2 L139.8,336.2 L142.0,329.4 L144.2,330.1 L146.4,329.0 L148.6,332.6 L150.8,338.0 L153.0,333.5 L155.2,336.3 L157.4,303.0 L159.6,324.7 L161.8,320.9 L164.0,321.2 L166.2,308.3 L168.4,317.4 L170.6,310.0 L172.8,301.7 L175.0,318.3 L177.2,328.0 L179.4,316.8 L181.6,321.0 L183.8,332.3 L186.0,319.7 L188.2,333.3 L190.4,308.3 L192.6,300.8 L194.8,319.5 L197.0,322.7 L199.2,315.6 L201.4,299.9 L203.6,306.3 L205.8,304.1 L208.0,293.4 L210.2,301.8 L212.4,299.7 L214.6,313.1 L216.8,316.5 L219.0,299.0 L221.2,305.5 L223.4,304.1 L225.6,297.4 L227.8,297.9 L230.0,297.3 L232.2,284.9 L234.4,301.0 L236.6,287.5 L238.8,294.0 L241.0,285.9 L243.2,289.9 L245.4,291.0 L247.6,278.1 L249.8,285.5 L252.0,279.3 L254.2,279.4 L256.4,288.0 L258.6,281.7 L260.8,275.9 L263.0,274.1 L265.2,271.3 L267.4,262.8 L269.6,264.6 L271.8,261.0 L274.0,253.3 L276.2,258.7 L278.4,262.9 L280.6,250.4 L282.8,251.6 L285.0,258.9 L287.2,247.6 L289.4,257.3 L291.6,246.9 L293.8,254.1 L296.0,242.9 L298.2,258.2 L300.4,241.4 L302.6,238.4 L304.8,239.1 L307.0,235.6 L309.2,257.0 L311.4,252.3 L313.6,240.0 L315.8,258.0 L318.0,251.8 L320.2,242.9 L322.4,228.5 L324.6,225.2 L326.8,238.8 L329.0,243.4 L331.2,242.8 L333.4,235.3 L335.6,237.6 L337.8,239.7 L340.0,238.6 L342.2,227.4 L344.4,237.6 L346.6,239.1 L348.8,240.9 L351.0,233.2 L353.2,226.6 L355.4,216.4 L357.6,231.0 L359.8,223.9 L362.0,222.6 L364.2,225.5 L366.4,236.7 L368.6,226.0 L370.8,227.1 L373.0,233.4 L375.2,217.6 L377.4,217.3 L379.6,228.3 L381.8,219.5 L384.0,226.9 L386.2,229.3 L388.4,235.3 L390.6,238.5 L392.8,232.3 L395.0,236.4 L397.2,237.3 L399.4,227.2 L401.6,229.8 L403.8,229.7 L406.0,241.0 L408.2,238.7 L410.4,244.3 L412.6,254.5 L414.8,252.6 L417.0,246.4 L419.2,249.6 L421.4,259.8 L423.6,259.1 L425.8,262.6 L428.0,263.8 L430.2,274.5 L432.4,268.8 L434.6,267.8 L436.8,276.3 L439.0,280.0 L441.2,277.9 L443.4,279.0 L445.6,283.6 L447.8,284.5 L450.0,289.7 L452.2,297.4 L454.4,302.0 L456.6,314.2 L458.8,310.9 L461.0,320.8 L463.2,318.4 L465.4,315.2 L467.6,319.6 L469.8,321.2 L472.0,314.9 L474.2,323.3 L476.4,321.8 L478.6,338.6 L480.8,336.7 L483.0,342.2 L485.2,348.9 L487.4,353.4 L489.6,344.9 L491.8,348.1 L494.0,351.2 L496.2,345.5 L498.4,337.6 L500.6,338.7 L502.8,341.9 L505.0,349.7 L507.2,360.9 L509.4,355.5 L511.6,355.9 L513.8,364.7 L516.0,352.0 L518.2,352.3 L520.4,356.9 L522.6,345.3 L524.8,362.1 L527.0,360.1 L529.2,354.3 L531.4,371.0 L533.6,356.3 L535.8,355.3 L538.0,347.7 L540.2,353.3 L542.4,342.5 L544.6,344.7 L546.8,348.4 L549.0,352.3 L551.2,344.8 L553.4,356.2 L555.6,361.1 L557.8,346.8 L560.0,345.9 L562.2,355.9 L564.4,345.4 L566.6,352.4 L568.8,335.5 L571.0,330.1 L573.2,347.2 L575.4,353.6 L577.6,359.2 L579.8,353.8 L582.0,353.4 L584.2,342.9 L586.4,342.8 L588.6,338.6 L590.8,326.8 L593.0,349.9 L595.2,345.8 L597.4,357.7 L599.6,345.0 L601.8,338.0 L604.0,336.6 L606.2,350.5 L608.4,336.3 L610.6,324.3 L612.8,343.5 L615.0,360.0 L617.2,333.9 L619.4,350.6 L621.6,355.2 L623.8,341.0 L626.0,341.6 L628.2,330.5 L630.4,337.3 L632.6,345.8 L634.8,347.9 L637.0,334.6 L639.2,344.0 L641.4,346.5 L643.6,345.3 L645.8,359.4 L648.0,350.5 L650.2,357.7 L652.4,360.2 L654.6,358.6 L656.8,348.5 L659.0,343.6 L661.2,347.7 L663.4,351.9 L665.6,353.8 L667.8,345.6 L670.0,350.1 L672.2,355.1 L674.4,353.7 L676.6,354.0 L678.8,355.5 L681.0,357.7 L683.2,368.5 L685.4,356.7 L687.6,356.3 L689.8,364.8 L692.0,357.6 L694.2,371.4 L696.4,363.0 L698.6,367.5 L700.8,366.2 L703.0,372.7 L705.2,370.6 L707.4,358.8 L709.6,365.2 L711.8,387.0 L714.0,371.6 L716.2,384.6 L718.4,372.2 L720.6,384.4 L722.8,386.7 L725.0,362.9 L727.2,374.5 L729.4,370.0 L731.6,373.9 L733.8,376.7 L736.0,365.1 L738.2,368.6 L740.4,375.5 L742.6,371.5 L744.8,372.6 L747.0,383.1 L749.2,387.2 L751.4,380.9 L753.6,365.5 L755.8,370.9 L758.0,402.0 L760.2,375.7 L762.4,363.2 L764.6,382.1 L766.8,394.0 L769.0,378.5 L771.2,378.0 L773.4,369.1 L775.6,376.5 L777.8,386.2 L780.0,380.0 L782.2,384.0 L784.4,394.5 L786.6,394.9 L788.8,370.5 L791.0,361.9 L793.2,360.5 L795.4,376.0 L797.6,383.0 L799.8,378.4 L802.0,376.7 L804.2,377.7 L806.4,372.2 L808.6,383.1 L810.8,376.6 L813.0,365.9 L815.2,382.8 L817.4,361.3 L819.6,357.8 L821.8,374.7 L824.0,365.3 L826.2,371.7 L828.4,375.6 L830.6,354.7 L832.8,370.3 L835.0,363.2 L837.2,366.8 L839.4,352.5 L841.6,346.3 L843.8,347.2 L846.0,341.9 L848.2,344.8 L850.4,347.8 L852.6,349.4 L854.8,351.0 L857.0,358.3 L859.2,343.3 L861.4,341.8 L863.6,345.6 L865.8,336.5 L868.0,339.4 L870.2,331.7 L872.4,322.0 L874.6,330.0 L876.8,327.9 L879.0,321.6 L881.2,314.4 L883.4,321.6 L885.6,315.9 L887.8,319.4 L890.0,316.8 L892.2,313.2 L894.4,309.4 L896.6,304.4 L898.8,297.3 L901.0,305.6 L903.2,313.1 L905.4,296.9 L907.6,295.9 L909.8,294.0 L912.0,291.0 L914.2,289.4 L916.4,275.2 L918.6,284.3 L920.8,276.1 L923.0,277.3 L925.2,270.2 L927.4,267.8 L929.6,264.8 L931.8,252.2 L934.0,256.9 L936.2,248.8 L938.4,253.7 L940.6,254.5 L942.8,238.8 L945.0,241.7 L947.2,235.6 L949.4,236.4 L951.6,241.7 L953.8,227.5 L956.0,233.8 L958.2,230.6 L960.4,225.8 L962.6,216.0 L964.8,217.0 L967.0,210.5 L969.2,210.4 L971.4,207.2 L973.6,214.5 L975.8,207.2 L978.0,203.1 L980.2,196.8 L982.4,197.8 L984.6,191.4 L986.8,181.3 L989.0,184.3 L991.2,172.6 L993.4,176.3 L995.6,165.0 L997.8,168.8 L1000.0,164.8 L1002.2,166.4 L1004.4,161.7 L1006.6,173.7 L1008.8,152.3 L1011.0,157.0 L1013.2,147.4 L1015.4,145.1 L1017.6,160.3 L1019.8,151.2 L1022.0,131.0 L1024.2,169.2 L1026.4,154.0 L1028.6,158.4 L1030.8,159.7 L1033.0,155.4 L1035.2,143.9 L1037.4,156.3 L1039.6,167.0 L1041.8,170.2 L1044.0,160.4 L1046.2,175.0 L1048.4,170.3 L1050.6,174.1 L1052.8,174.8 L1055.0,182.0 L1057.2,182.6 L1059.4,198.2 L1061.6,206.7 L1063.8,214.0 L1066.0,213.0 L1068.2,216.1 L1070.4,226.4 L1072.6,241.6 L1074.8,252.8 L1077.0,260.2 L1079.2,270.1 L1081.4,275.8 L1083.6,283.4 L1085.8,301.3 L1088.0,313.9 L1090.2,326.6 L1092.4,329.6 L1094.6,338.3 L1096.8,344.5 L1099.0,351.9 L1101.2,365.1 L1103.4,372.7 L1105.6,383.5 L1107.8,395.8 L1110.0,408.7 L1112.2,415.8 L1114.4,423.7 L1116.6,434.2 L1118.8,437.3 L1121.0,448.4 L1123.2,456.2 L1125.4,464.9 L1127.6,468.7 L1129.8,465.9 L1132.0,478.0 L1134.2,478.0 L1136.4,487.8 L1138.6,487.5 L1140.8,502.8 L1143.0,500.9 L1145.2,507.8 L1147.4,517.4 L1149.6,521.1 L1151.8,526.0 L1154.0,526.8 L1156.2,532.5 L1158.4,530.0 L1160.6,527.9 L1162.8,535.6 L1165.0,541.7 L1167.2,539.6 L1169.4,549.1 L1171.6,544.4 L1173.8,543.3 L1176.0,545.6 L1178.2,546.6 L1180.4,542.8 L1182.6,558.5 L1184.8,552.0 L1187.0,540.9 L1189.2,543.1 L1191.4,543.1 L1193.6,553.4 L1195.8,564.4 L1198.0,559.7 L1200.2,561.6 L1202.4,538.3 L1204.6,547.5 L1206.8,562.8 L1209.0,566.6 L1211.2,559.7 L1213.4,557.9 L1215.6,555.1 L1217.8,559.6 L1220.0,559.2 L1222.2,545.4 L1224.4,551.8 L1226.6,563.2 L1228.8,568.0 L1231.0,560.9 L1233.2,563.4 L1235.4,564.4 L1237.6,547.3 L1239.8,568.4 L1242.0,553.4 L1244.2,568.4 L1246.4,578.1 L1248.6,572.2 L1250.8,553.1 L1253.0,557.4 L1255.2,548.5 L1257.4,561.7 L1259.6,569.9 L1261.8,560.7 L1264.0,568.8 L1266.2,566.1 L1268.4,551.3 L1270.6,569.5 L1272.8,564.6 L1275.0,568.7 L1277.2,566.0 L1279.4,578.2 L1281.6,572.1 L1283.8,553.1 L1286.0,560.0 L1288.2,550.1 L1290.4,570.2 L1292.6,579.0 L1294.8,553.9 L1297.0,567.9 L1299.2,571.1 L1301.4,558.4 L1303.6,564.6" fill="none" stroke="#c050b0" stroke-width="1.5"/>
<g><use href="#tu" x="87.0" y="332.9"/><use href="#tu" x="89.2" y="331.7"/><use href="#tu" x="91.4" y="326.1"/><use href="#tu" x="93.6" y="334.2"/><use href="#tu" x="95.8" y="331.1"/><use href="#tu" x="98.0" y="337.0"/><use href="#tu" x="100.2" y="335.1"/><use href="#tu" x="102.4" y="326.8"/><use href="#tu" x="104.6" y="332.0"/><use href="#tu" x="106.8" y="344.9"/><use href="#tu" x="109.0" y="334.6"/><use href="#tu" x="111.2" y="338.2"/><use href="#tu" x="113.4" y="339.2"/><use href="#tu" x="115.6" y="321.0"/><use href="#tu" x="117.8" y="314.5"/><use href="#tu" x="120.0" y="326.2"/><use href="#tu" x="122.2" y="341.2"/><use href="#tu" x="124.4" y="335.2"/><use href="#tu" x="126.6" y="332.5"/><use href="#tu" x="128.8" y="338.4"/><use href="#tu" x="131.0" y="330.5"/><use href="#tu" x="133.2" y="332.0"/><use href="#tu" x="135.4" y="326.0"/><use href="#tu" x="137.6" y="315.2"/><use href="#tu" x="139.8" y="336.2"/><use href="#tu" x="142.0" y="329.4"/><use href="#tu" x="144.2" y="330.1"/><use href="#tu" x="146.4" y="329.0"/><use href="#tu" x="148.6" y="332.6"/><use href="#tu" x="150.8" y="338.0"/><use href="#tu" x="153.0" y="333.5"/><use href="#tu" x="155.2" y="336.3"/><use href="#tu" x="157.4" y="303.0"/><use href="#tu" x="159.6" y="324.7"/><use href="#tu" x="161.8" y="320.9"/><use href="#tu" x="164.0" y="321.2"/><use href="#tu" x="166.2" y="308.3"/><use href="#tu" x="168.4" y="317.4"/><use href="#tu" x="170.6" y="310.0"/><use href="#tu" x="172.8" y="301.7"/><use href="#tu" x="175.0" y="318.3"/><use href="#tu" x="177.2" y="328.0"/><use href="#tu" x="179.4" y="316.8"/><use href="#tu" x="181.6" y="321.0"/><use href="#tu" x="183.8" y="332.3"/><use href="#tu" x="186.0" y="319.7"/><use href="#tu" x="188.2" y="333.3"/><use href="#tu" x="190.4" y="308.3"/><use href="#tu" x="192.6" y="300.8"/><use href="#tu" x="194.8" y="319.5"/><use href="#tu" x="197.0" y="322.7"/><use href="#tu" x="199.2" y="315.6"/><use href="#tu" x="201.4" y="299.9"/><use href="#tu" x="203.6" y="306.3"/><use href="#tu" x="205.8" y="304.1"/><use href="#tu" x="208.0" y="293.4"/><use href="#tu" x="210.2" y="301.8"/><use href="#tu" x="212.4" y="299.7"/><use href="#tu" x="214.6" y="313.1"/><use href="#tu" x="216.8" y="316.5"/><use href="#tu" x="219.0" y="299.0"/><use href="#tu" x="221.2" y="305.5"/><use href="#tu" x="223.4" y="304.1"/><use href="#tu" x="225.6" y="297.4"/><use href="#tu" x="227.8" y="297.9"/><use href="#tu" x="230.0" y="297.3"/><use href="#tu" x="232.2" y="284.9"/><use href="#tu" x="234.4" y="301.0"/><use href="#tu" x="236.6" y="287.5"/><use href="#tu" x="238.8" y="294.0"/><use href="#tu" x="241.0" y="285.9"/><use href="#tu" x="243.2" y="289.9"/><use href="#tu" x="245.4" y="291.0"/><use href="#tu" x="247.6" y="278.1"/><use href="#tu" x="249.8" y="285.5"/><use href="#tu" x="252.0" y="279.3"/><use href="#tu" x="254.2" y="279.4"/><use href="#tu" x="256.4" y="288.0"/><use href="#tu" x="258.6" y="281.7"/><use href="#tu" x="260.8" y="275.9"/><use href="#tu" x="263.0" y="274.1"/><use href="#tu" x="265.2" y="271.3"/><use href="#tu" x="267.4" y="262.8"/><use href="#tu" x="269.6" y="264.6"/><use href="#tu" x="271.8" y="261.0"/><use href="#tu" x="274.0" y="253.3"/><use href="#tu" x="276.2" y="258.7"/><use href="#tu" x="278.4" y="262.9"/><use href="#tu" x="280.6" y="250.4"/><use href="#tu" x="282.8" y="251.6"/><use href="#tu" x="285.0" y="258.9"/><use href="#tu" x="287.2" y="247.6"/><use href="#tu" x="289.4" y="257.3"/><use href="#tu" x="291.6" y="246.9"/><use href="#tu" x="293.8" y="254.1"/><use href="#tu" x="296.0" y="242.9"/><use href="#tu" x="298.2" y="258.2"/><use href="#tu" x="300.4" y="241.4"/><use href="#tu" x="302.6" y="238.4"/><use href="#tu" x="304.8" y="239.1"/><use href="#tu" x="307.0" y="235.6"/><use href="#tu" x="309.2" y="257.0"/><use href="#tu" x="311.4" y="252.3"/><use href="#tu" x="313.6" y="240.0"/><use href="#tu" x="315.8" y="258.0"/><use href="#tu" x="318.0" y="251.8"/><use href="#tu" x="320.2" y="242.9"/><use href="#tu" x="322.4" y="228.5"/><use href="#tu" x="324.6" y="225.2"/><use href="#tu" x="326.8" y="238.8"/><use href="#tu" x="329.0" y="243.4"/><use href="#tu" x="331.2" y="242.8"/><use href="#tu" x="333.4" y="235.3"/><use href="#tu" x="335.6" y="237.6"/><use href="#tu" x="337.8" y="239.7"/><use href="#tu" x="340.0" y="238.6"/><use href="#tu" x="342.2" y="227.4"/><use href="#tu" x="344.4" y="237.6"/><use href="#tu" x="346.6" y="239.1"/><use href="#tu" x="348.8" y="240.9"/><use href="#tu" x="351.0" y="233.2"/><use href="#tu" x="353.2" y="226.6"/><use href="#tu" x="355.4" y="216.4"/><use href="#tu" x="357.6" y="231.0"/><use href="#tu" x="359.8" y="223.9"/><use href="#tu" x="362.0" y="222.6"/><use href="#tu" x="364.2" y="225.5"/><use href="#tu" x="366.4" y="236.7"/><use href="#tu" x="368.6" y="226.0"/><use href="#tu" x="370.8" y="227.1"/><use href="#tu" x="373.0" y="233.4"/><use href="#tu" x="375.2" y="217.6"/><use href="#tu" x="377.4" y="217.3"/><use href="#tu" x="379.6" y="228.3"/><use href="#tu" x="381.8" y="219.5"/><use href="#tu" x="384.0" y="226.9"/><use href="#tu" x="386.2" y="229.3"/><use href="#tu" x="388.4" y="235.3"/><use href="#tu" x="390.6" y="238.5"/><use href="#tu" x="392.8" y="232.3"/><use href="#tu" x="395.0" y="236.4"/><use href="#tu" x="397.2" y="237.3"/><use href="#tu" x="399.4" y="227.2"/><use href="#tu" x="401.6" y="229.8"/><use href="#tu" x="403.8" y="229.7"/><use href="#tu" x="406.0" y="241.0"/><use href="#tu" x="408.2" y="238.7"/><use href="#tu" x="410.4" y="244.3"/><use href="#tu" x="412.6" y="254.5"/><use href="#tu" x="414.8" y="252.6"/><use href="#tu" x="417.0" y="246.4"/><use href="#tu" x="419.2" y="249.6"/><use href="#tu" x="421.4" y="259.8"/><use href="#tu" x="423.6" y="259.1"/><use href="#tu" x="425.8" y="262.6"/><use href="#tu" x="428.0" y="263.8"/><use href="#tu" x="430.2" y="274.5"/><use href="#tu" x="432.4" y="268.8"/><use href="#tu" x="434.6" y="267.8"/><use href="#tu" x="436.8" y="276.3"/><use href="#tu" x="439.0" y="280.0"/><use href="#tu" x="441.2" y="277.9"/><use href="#tu" x="443.4" y="279.0"/><use href="#tu" x="445.6" y="283.6"/><use href="#tu" x="447.8" y="284.5"/><use href="#tu" x="450.0" y="289.7"/><use href="#tu" x="452.2" y="297.4"/><use href="#tu" x="454.4" y="302.0"/><use href="#tu" x="456.6" y="314.2"/><use href="#tu" x="458.8" y="310.9"/><use href="#tu" x="461.0" y="320.8"/><use href="#tu" x="463.2" y="318.4"/><use href="#tu" x="465.4" y="315.2"/><use href="#tu" x="467.6" y="319.6"/><use href="#tu" x="469.8" y="321.2"/><use href="#tu" x="472.0" y="314.9"/><use href="#tu" x="474.2" y="323.3"/><use href="#tu" x="476.4" y="321.8"/><use href="#tu" x="478.6" y="338.6"/><use href="#tu" x="480.8" y="336.7"/><use href="#tu" x="483.0" y="342.2"/><use href="#tu" x="485.2" y="348.9"/><use href="#tu" x="487.4" y="353.4"/><use href="#tu" x="489.6" y="344.9"/><use href="#tu" x="491.8" y="348.1"/><use href="#tu" x="494.0" y="351.2"/><use href="#tu" x="496.2" y="345.5"/><use href="#tu" x="498.4" y="337.6"/><use href="#tu" x="500.6" y="338.7"/><use href="#tu" x="502.8" y="341.9"/><use href="#tu" x="505.0" y="349.7"/><use href="#tu" x="507.2" y="360.9"/><use href="#tu" x="509.4" y="355.5"/><use href="#tu" x="511.6" y="355.9"/><use href="#tu" x="513.8" y="364.7"/><use href="#tu" x="516.0" y="352.0"/><use href="#tu" x="518.2" y="352.3"/><use href="#tu" x="520.4" y="356.9"/><use href="#tu" x="522.6" y="345.3"/><use href="#tu" x="524.8" y="362.1"/><use href="#tu" x="527.0" y="360.1"/><use href="#tu" x="529.2" y="354.3"/><use href="#tu" x="531.4" y="371.0"/><use href="#tu" x="533.6" y="356.3"/><use href="#tu" x="535.8" y="355.3"/><use href="#tu" x="538.0" y="347.7"/><use href="#tu" x="540.2" y="353.3"/><use href="#tu" x="542.4" y="342.5"/><use href="#tu" x="544.6" y="344.7"/><use href="#tu" x="546.8" y="348.4"/><use href="#tu" x="549.0" y="352.3"/><use href="#tu" x="551.2" y="344.8"/><use href="#tu" x="553.4" y="356.2"/><use href="#tu" x="555.6" y="361.1"/><use href="#tu" x="557.8" y="346.8"/><use href="#tu" x="560.0" y="345.9"/><use href="#tu" x="562.2" y="355.9"/><use href="#tu" x="564.4" y="345.4"/><use href="#tu" x="566.6" y="352.4"/><use href="#tu" x="568.8" y="335.5"/><use href="#tu" x="571.0" y="330.1"/><use href="#tu" x="573.2" y="347.2"/><use href="#tu" x="575.4" y="353.6"/><use href="#tu" x="577.6" y="359.2"/><use href="#tu" x="579.8" y="353.8"/><use href="#tu" x="582.0" y="353.4"/><use href="#tu" x="584.2" y="342.9"/><use href="#tu" x="586.4" y="342.8"/><use href="#tu" x="588.6" y="338.6"/><use href="#tu" x="590.8" y="326.8"/><use href="#tu" x="593.0" y="349.9"/><use href="#tu" x="595.2" y="345.8"/><use href="#tu" x="597.4" y="357.7"/><use href="#tu" x="599.6" y="345.0"/><use href="#tu" x="601.8" y="338.0"/><use href="#tu" x="604.0" y="336.6"/><use href="#tu" x="606.2" y="350.5"/><use href="#tu" x="608.4" y="336.3"/><use href="#tu" x="610.6" y="324.3"/><use href="#tu" x="612.8" y="343.5"/><use href="#tu" x="615.0" y="360.0"/><use href="#tu" x="617.2" y="333.9"/><use href="#tu" x="619.4" y="350.6"/><use href="#tu" x="621.6" y="355.2"/><use href="#tu" x="623.8" y="341.0"/><use href="#tu" x="626.0" y="341.6"/><use href="#tu" x="628.2" y="330.5"/><use href="#tu" x="630.4" y="337.3"/><use href="#tu" x="632.6" y="345.8"/><use href="#tu" x="634.8" y="347.9"/><use href="#tu" x="637.0" y="334.6"/><use href="#tu" x="639.2" y="344.0"/><use href="#tu" x="641.4" y="346.5"/><use href="#tu" x="643.6" y="345.3"/><use href="#tu" x="645.8" y="359.4"/><use href="#tu" x="648.0" y="350.5"/><use href="#tu" x="650.2" y="357.7"/><use href="#tu" x="652.4" y="360.2"/><use href="#tu" x="654.6" y="358.6"/><use href="#tu" x="656.8" y="348.5"/><use href="#tu" x="659.0" y="343.6"/><use href="#tu" x="661.2" y="347.7"/><use href="#tu" x="663.4" y="351.9"/><use href="#tu" x="665.6" y="353.8"/><use href="#tu" x="667.8" y="345.6"/><use href="#tu" x="670.0" y="350.1"/><use href="#tu" x="672.2" y="355.1"/><use href="#tu" x="674.4" y="353.7"/><use href="#tu" x="676.6" y="354.0"/><use href="#tu" x="678.8" y="355.5"/><use href="#tu" x="681.0" y="357.7"/><use href="#tu" x="683.2" y="368.5"/><use href="#tu" x="685.4" y="356.7"/><use href="#tu" x="687.6" y="356.3"/><use href="#tu" x="689.8" y="364.8"/><use href="#tu" x="692.0" y="357.6"/><use href="#tu" x="694.2" y="371.4"/><use href="#tu" x="696.4" y="363.0"/><use href="#tu" x="698.6" y="367.5"/><use href="#tu" x="700.8" y="366.2"/><use href="#tu" x="703.0" y="372.7"/><use href="#tu" x="705.2" y="370.6"/><use href="#tu" x="707.4" y="358.8"/><use href="#tu" x="709.6" y="365.2"/><use href="#tu" x="711.8" y="387.0"/><use href="#tu" x="714.0" y="371.6"/><use href="#tu" x="716.2" y="384.6"/><use href="#tu" x="718.4" y="372.2"/><use href="#tu" x="720.6" y="384.4"/><use href="#tu" x="722.8" y="386.7"/><use href="#tu" x="725.0" y="362.9"/><use href="#tu" x="727.2" y="374.5"/><use href="#tu" x="729.4" y="370.0"/><use href="#tu" x="731.6" y="373.9"/><use href="#tu" x="733.8" y="376.7"/><use href="#tu" x="736.0" y="365.1"/><use href="#tu" x="738.2" y="368.6"/><use href="#tu" x="740.4" y="375.5"/><use href="#tu" x="742.6" y="371.5"/><use href="#tu" x="744.8" y="372.6"/><use href="#tu" x="747.0" y="383.1"/><use href="#tu" x="749.2" y="387.2"/><use href="#tu" x="751.4" y="380.9"/><use href="#tu" x="753.6" y="365.5"/><use href="#tu" x="755.8" y="370.9"/><use href="#tu" x="758.0" y="402.0"/><use href="#tu" x="760.2" y="375.7"/><use href="#tu" x="762.4" y="363.2"/><use href="#tu" x="764.6" y="382.1"/><use href="#tu" x="766.8" y="394.0"/><use href="#tu" x="769.0" y="378.5"/><use href="#tu" x="771.2" y="378.0"/><use href="#tu" x="773.4" y="369.1"/><use href="#tu" x="775.6" y="376.5"/><use href="#tu" x="777.8" y="386.2"/><use href="#tu" x="780.0" y="380.0"/><use href="#tu" x="782.2" y="384.0"/><use href="#tu" x="784.4" y="394.5"/><use href="#tu" x="786.6" y="394.9"/><use href="#tu" x="788.8" y="370.5"/><use href="#tu" x="791.0" y="361.9"/><use href="#tu" x="793.2" y="360.5"/><use href="#tu" x="795.4" y="376.0"/><use href="#tu" x="797.6" y="383.0"/><use href="#tu" x="799.8" y="378.4"/><use href="#tu" x="802.0" y="376.7"/><use href="#tu" x="804.2" y="377.7"/><use href="#tu" x="806.4" y="372.2"/><use href="#tu" x="808.6" y="383.1"/><use href="#tu" x="810.8" y="376.6"/><use href="#tu" x="813.0" y="365.9"/><use href="#tu" x="815.2" y="382.8"/><use href="#tu" x="817.4" y="361.3"/><use href="#tu" x="819.6" y="357.8"/><use href="#tu" x="821.8" y="374.7"/><use href="#tu" x="824.0" y="365.3"/><use href="#tu" x="826.2" y="371.7"/><use href="#tu" x="828.4" y="375.6"/><use href="#tu" x="830.6" y="354.7"/><use href="#tu" x="832.8" y="370.3"/><use href="#tu" x="835.0" y="363.2"/><use href="#tu" x="837.2" y="366.8"/><use href="#tu" x="839.4" y="352.5"/><use href="#tu" x="841.6" y="346.3"/><use href="#tu" x="843.8" y="347.2"/><use href="#tu" x="846.0" y="341.9"/><use href="#tu" x="848.2" y="344.8"/><use href="#tu" x="850.4" y="347.8"/><use href="#tu" x="852.6" y="349.4"/><use href="#tu" x="854.8" y="351.0"/><use href="#tu" x="857.0" y="358.3"/><use href="#tu" x="859.2" y="343.3"/><use href="#tu" x="861.4" y="341.8"/><use href="#tu" x="863.6" y="345.6"/><use href="#tu" x="865.8" y="336.5"/><use href="#tu" x="868.0" y="339.4"/><use href="#tu" x="870.2" y="331.7"/><use href="#tu" x="872.4" y="322.0"/><use href="#tu" x="874.6" y="330.0"/><use href="#tu" x="876.8" y="327.9"/><use href="#tu" x="879.0" y="321.6"/><use href="#tu" x="881.2" y="314.4"/><use href="#tu" x="883.4" y="321.6"/><use href="#tu" x="885.6" y="315.9"/><use href="#tu" x="887.8" y="319.4"/><use href="#tu" x="890.0" y="316.8"/><use href="#tu" x="892.2" y="313.2"/><use href="#tu" x="894.4" y="309.4"/><use href="#tu" x="896.6" y="304.4"/><use href="#tu" x="898.8" y="297.3"/><use href="#tu" x="901.0" y="305.6"/><use href="#tu" x="903.2" y="313.1"/><use href="#tu" x="905.4" y="296.9"/><use href="#tu" x="907.6" y="295.9"/><use href="#tu" x="909.8" y="294.0"/><use href="#tu" x="912.0" y="291.0"/><use href="#tu" x="914.2" y="289.4"/><use href="#tu" x="916.4" y="275.2"/><use href="#tu" x="918.6" y="284.3"/><use href="#tu" x="920.8" y="276.1"/><use href="#tu" x="923.0" y="277.3"/><use href="#tu" x="925.2" y="270.2"/><use href="#tu" x="927.4" y="267.8"/><use href="#tu" x="929.6" y="264.8"/><use href="#tu" x="931.8" y="252.2"/><use href="#tu" x="934.0" y="256.9"/><use href="#tu" x="936.2" y="248.8"/><use href="#tu" x="938.4" y="253.7"/><use href="#tu" x="940.6" y="254.5"/><use href="#tu" x="942.8" y="238.8"/><use href="#tu" x="945.0" y="241.7"/><use href="#tu" x="947.2" y="235.6"/><use href="#tu" x="949.4" y="236.4"/><use href="#tu" x="951.6" y="241.7"/><use href="#tu" x="953.8" y="227.5"/><use href="#tu" x="956.0" y="233.8"/><use href="#tu" x="958.2" y="230.6"/><use href="#tu" x="960.4" y="225.8"/><use href="#tu" x="962.6" y="216.0"/><use href="#tu" x="964.8" y="217.0"/><use href="#tu" x="967.0" y="210.5"/><use href="#tu" x="969.2" y="210.4"/><use href="#tu" x="971.4" y="207.2"/><use href="#tu" x="973.6" y="214.5"/><use href="#tu" x="975.8" y="207.2"/><use href="#tu" x="978.0" y="203.1"/><use href="#tu" x="980.2" y="196.8"/><use href="#tu" x="982.4" y="197.8"/><use href="#tu" x="984.6" y="191.4"/><use href="#tu" x="986.8" y="181.3"/><use href="#tu" x="989.0" y="184.3"/><use href="#tu" x="991.2" y="172.6"/><use href="#tu" x="993.4" y="176.3"/><use href="#tu" x="995.6" y="165.0"/><use href="#tu" x="997.8" y="168.8"/><use href="#tu" x="1000.0" y="164.8"/><use href="#tu" x="1002.2" y="166.4"/><use href="#tu" x="1004.4" y="161.7"/><use href="#tu" x="1006.6" y="173.7"/><use href="#tu" x="1008.8" y="152.3"/><use href="#tu" x="1011.0" y="157.0"/><use href="#tu" x="1013.2" y="147.4"/><use href="#tu" x="1015.4" y="145.1"/><use href="#tu" x="1017.6" y="160.3"/><use href="#tu" x="1019.8" y="151.2"/><use href="#tu" x="1022.0" y="131.0"/><use href="#tu" x="1024.2" y="169.2"/><use href="#tu" x="1026.4" y="154.0"/><use href="#tu" x="1028.6" y="158.4"/><use href="#tu" x="1030.8" y="159.7"/><use href="#tu" x="1033.0" y="155.4"/><use href="#tu" x="1035.2" y="143.9"/><use href="#tu" x="1037.4" y="156.3"/><use href="#tu" x="1039.6" y="167.0"/><use href="#tu" x="1041.8" y="170.2"/><use href="#tu" x="1044.0" y="160.4"/><use href="#tu" x="1046.2" y="175.0"/><use href="#tu" x="1048.4" y="170.3"/><use href="#tu" x="1050.6" y="174.1"/><use href="#tu" x="1052.8" y="174.8"/><use href="#tu" x="1055.0" y="182.0"/><use href="#tu" x="1057.2" y="182.6"/><use href="#tu" x="1059.4" y="198.2"/><use href="#tu" x="1061.6" y="206.7"/><use href="#tu" x="1063.8" y="214.0"/><use href="#tu" x="1066.0" y="213.0"/><use href="#tu" x="1068.2" y="216.1"/><use href="#tu" x="1070.4" y="226.4"/><use href="#tu" x="1072.6" y="241.6"/><use href="#tu" x="1074.8" y="252.8"/><use href="#tu" x="1077.0" y="260.2"/><use href="#tu" x="1079.2" y="270.1"/><use href="#tu" x="1081.4" y="275.8"/><use href="#tu" x="1083.6" y="283.4"/><use href="#tu" x="1085.8" y="301.3"/><use href="#tu" x="1088.0" y="313.9"/><use href="#tu" x="1090.2" y="326.6"/><use href="#tu" x="1092.4" y="329.6"/><use href="#tu" x="1094.6" y="338.3"/><use href="#tu" x="1096.8" y="344.5"/><use href="#tu" x="1099.0" y="351.9"/><use href="#tu" x="1101.2" y="365.1"/><use href="#tu" x="1103.4" y="372.7"/><use href="#tu" x="1105.6" y="383.5"/><use href="#tu" x="1107.8" y="395.8"/><use href="#tu" x="1110.0" y="408.7"/><use href="#tu" x="1112.2" y="415.8"/><use href="#tu" x="1114.4" y="423.7"/><use href="#tu" x="1116.6" y="434.2"/><use href="#tu" x="1118.8" y="437.3"/><use href="#tu" x="1121.0" y="448.4"/><use href="#tu" x="1123.2" y="456.2"/><use href="#tu" x="1125.4" y="464.9"/><use href="#tu" x="1127.6" y="468.7"/><use href="#tu" x="1129.8" y="465.9"/><use href="#tu" x="1132.0" y="478.0"/><use href="#tu" x="1134.2" y="478.0"/><use href="#tu" x="1136.4" y="487.8"/><use href="#tu" x="1138.6" y="487.5"/><use href="#tu" x="1140.8" y="502.8"/><use href="#tu" x="1143.0" y="500.9"/><use href="#tu" x="1145.2" y="507.8"/><use href="#tu" x="1147.4" y="517.4"/><use href="#tu" x="1149.6" y="521.1"/><use href="#tu" x="1151.8" y="526.0"/><use href="#tu" x="1154.0" y="526.8"/><use href="#tu" x="1156.2" y="532.5"/><use href="#tu" x="1158.4" y="530.0"/><use href="#tu" x="1160.6" y="527.9"/><use href="#tu" x="1162.8" y="535.6"/><use href="#tu" x="1165.0" y="541.7"/><use href="#tu" x="1167.2" y="539.6"/><use href="#tu" x="1169.4" y="549.1"/><use href="#tu" x="1171.6" y="544.4"/><use href="#tu" x="1173.8" y="543.3"/><use href="#tu" x="1176.0" y="545.6"/><use href="#tu" x="1178.2" y="546.6"/><use href="#tu" x="1180.4" y="542.8"/><use href="#tu" x="1182.6" y="558.5"/><use href="#tu" x="1184.8" y="552.0"/><use href="#tu" x="1187.0" y="540.9"/><use href="#tu" x="1189.2" y="543.1"/><use href="#tu" x="1191.4" y="543.1"/><use href="#tu" x="1193.6" y="553.4"/><use href="#tu" x="1195.8" y="564.4"/><use href="#tu" x="1198.0" y="559.7"/><use href="#tu" x="1200.2" y="561.6"/><use href="#tu" x="1202.4" y="538.3"/><use href="#tu" x="1204.6" y="547.5"/><use href="#tu" x="1206.8" y="562.8"/><use href="#tu" x="1209.0" y="566.6"/><use href="#tu" x="1211.2" y="559.7"/><use href="#tu" x="1213.4" y="557.9"/><use href="#tu" x="1215.6" y="555.1"/><use href="#tu" x="1217.8" y="559.6"/><use href="#tu" x="1220.0" y="559.2"/><use href="#tu" x="1222.2" y="545.4"/><use href="#tu" x="1224.4" y="551.8"/><use href="#tu" x="1226.6" y="563.2"/><use href="#tu" x="1228.8" y="568.0"/><use href="#tu" x="1231.0" y="560.9"/><use href="#tu" x="1233.2" y="563.4"/><use href="#tu" x="1235.4" y="564.4"/><use href="#tu" x="1237.6" y="547.3"/><use href="#tu" x="1239.8" y="568.4"/><use href="#tu" x="1242.0" y="553.4"/><use href="#tu" x="1244.2" y="568.4"/><use href="#tu" x="1246.4" y="578.1"/><use href="#tu" x="1248.6" y="572.2"/><use href="#tu" x="1250.8" y="553.1"/><use href="#tu" x="1253.0" y="557.4"/><use href="#tu" x="1255.2" y="548.5"/><use href="#tu" x="1257.4" y="561.7"/><use href="#tu" x="1259.6" y="569.9"/><use href="#tu" x="1261.8" y="560.7"/><use href="#tu" x="1264.0" y="568.8"/><use href="#tu" x="1266.2" y="566.1"/><use href="#tu" x="1268.4" y="551.3"/><use href="#tu" x="1270.6" y="569.5"/><use href="#tu" x="1272.8" y="564.6"/><use href="#tu" x="1275.0" y="568.7"/><use href="#tu" x="1277.2" y="566.0"/><use href="#tu" x="1279.4" y="578.2"/><use href="#tu" x="1281.6" y="572.1"/><use href="#tu" x="1283.8" y="553.1"/><use href="#tu" x="1286.0" y="560.0"/><use href="#tu" x="1288.2" y="550.1"/><use href="#tu" x="1290.4" y="570.2"/><use href="#tu" x="1292.6" y="579.0"/><use href="#tu" x="1294.8" y="553.9"/><use href="#tu" x="1297.0" y="567.9"/><use href="#tu" x="1299.2" y="571.1"/><use href="#tu" x="1301.4" y="558.4"/><use href="#tu" x="1303.6" y="564.6"/></g>
</g>
<g stroke-width="3">
<line x1="337.7" y1="89.5" x2="337.7" y2="158" stroke="#3a4a8a"/>
<line x1="410.5" y1="102" x2="410.5" y2="158" stroke="#454a6a"/>
<line x1="1011.9" y1="59.5" x2="1011.9" y2="100" stroke="#3c4470"/>
<line x1="1064.1" y1="81.3" x2="1064.1" y2="127" stroke="#3c4470"/>
</g>
<path d="M353.0,298.9 L368.5,268.4 L383.9,298.9 Z" fill="#160816" stroke="#160816" stroke-width="1.2" stroke-linejoin="round"/>
<rect x="365.0" y="297.9" width="7.6" height="144.1" fill="#160816"/>
<ellipse cx="368.8" cy="442.0" rx="3.8" ry="3.8" fill="#160816"/>
<path d="M612.3,386.2 L627.3,368.4 L642.3,386.2 Z" fill="#160816" stroke="#160816" stroke-width="1.2" stroke-linejoin="round"/>
<rect x="623.2" y="385.2" width="8.1" height="83.2" fill="#160816"/>
<ellipse cx="627.2" cy="468.4" rx="4.0" ry="4.0" fill="#160816"/>
<path d="M1007.3,231.9 L1022.5,201.5 L1038.1,231.9 Z" fill="#160816" stroke="#160816" stroke-width="1.2" stroke-linejoin="round"/>
<rect x="1018.9" y="230.9" width="7.1" height="144.2" fill="#160816"/>
<ellipse cx="1022.5" cy="375.1" rx="3.6" ry="3.6" fill="#160816"/>
<line x1="522" y1="57.8" x2="559" y2="57.8" stroke="#3a4a84" stroke-width="2.4"/>
<line x1="601" y1="57.5" x2="641" y2="57.5" stroke="#3a4a84" stroke-width="2.4"/>
<path d="M565,47.5 L598,47.5 L581.5,69.5 Z" fill="url(#lgb)" stroke="#3050a0" stroke-width="2.5" stroke-linejoin="round"/>
<line x1="521" y1="132.5" x2="559" y2="132.5" stroke="#8a5c92" stroke-width="2.4"/>
<line x1="610.5" y1="131.8" x2="645" y2="131.8" stroke="#8a5c92" stroke-width="2.4"/>
<path d="M582,119 L599,141.5 L565,141.5 Z" fill="url(#lgp)" stroke="#b050a8" stroke-width="2.5" stroke-linejoin="round"/>
<defs>
<linearGradient id="lgb" x1="0" y1="0" x2="0" y2="1"><stop offset="0" stop-color="#c8d8f8"/><stop offset="0.5" stop-color="#f0f4ff"/><stop offset="1" stop-color="#7890d0"/></linearGradient>
<linearGradient id="lgp" x1="0" y1="0" x2="0" y2="1"><stop offset="0" stop-color="#e0a8e0"/><stop offset="0.6" stop-color="#f4d8f4"/><stop offset="1" stop-color="#d890d8"/></linearGradient>
</defs>
<text transform="matrix(0.6800 0 0 1 669.53 74.70)" font-size="56.83" fill="#000" letter-spacing="-0.017" stroke="#000" stroke-width="0.5">Fe</text>
<text transform="matrix(0.8495 0 0 1 718.27 92.84)" font-size="47.17" fill="#000" stroke="#000" stroke-width="0.4">3</text>
<text transform="matrix(0.6504 0 0 1 742.90 75.23)" font-size="58.33" fill="#000" stroke="#000" stroke-width="0.4">O</text>
<text transform="matrix(0.8158 0 0 1 771.33 91.70)" font-size="46.22" fill="#000" stroke="#000" stroke-width="0.4">4</text>
<text transform="matrix(0.6800 0 0 1 674.53 149.20)" font-size="56.83" fill="#000" letter-spacing="-0.017" stroke="#000" stroke-width="0.5">Fe</text>
<text transform="matrix(0.8541 0 0 1 725.41 164.00)" font-size="46.26" fill="#000" stroke="#000" stroke-width="0.4">2</text>
<text transform="matrix(0.6504 0 0 1 747.90 149.73)" font-size="58.33" fill="#000" stroke="#000" stroke-width="0.4">O</text>
<text transform="matrix(0.8195 0 0 1 775.75 166.75)" font-size="46.33" fill="#000" stroke="#000" stroke-width="0.4">3</text>
<text transform="matrix(0.6800 0 0 1 308.58 76.40)" font-size="52.33" fill="#000" letter-spacing="-0.476" stroke="#000" stroke-width="0.5">Fe</text>
<text transform="matrix(0.8019 0 0 1 352.29 58.25)" font-size="36.30" fill="#000" stroke="#000" stroke-width="0.4">3</text>
<text transform="matrix(0.8129 0 0 1 369.05 60.78)" font-size="33.93" fill="#000" stroke="#000" stroke-width="0.4">+</text>
<text transform="matrix(0.6800 0 0 1 397.41 98.00)" font-size="51.74" fill="#000" letter-spacing="0.718" stroke="#000" stroke-width="0.5">Fe</text>
<text transform="matrix(0.8494 0 0 1 440.28 79.80)" font-size="35.66" fill="#000" stroke="#000" stroke-width="0.4">2</text>
<text transform="matrix(0.8175 0 0 1 457.81 82.85)" font-size="34.75" fill="#000" stroke="#000" stroke-width="0.4">+</text>
<text transform="matrix(0.6800 0 0 1 960.78 69.00)" font-size="52.33" fill="#000" letter-spacing="0.113" stroke="#000" stroke-width="0.5">Fe</text>
<text transform="matrix(0.7667 0 0 1 1004.12 51.24)" font-size="36.86" fill="#000" stroke="#000" stroke-width="0.4">3</text>
<text transform="matrix(0.8175 0 0 1 1020.81 53.85)" font-size="34.75" fill="#000" stroke="#000" stroke-width="0.4">+</text>
<text transform="matrix(0.6800 0 0 1 1047.01 71.40)" font-size="51.74" fill="#000" letter-spacing="0.718" stroke="#000" stroke-width="0.5">Fe</text>
<text transform="matrix(0.8360 0 0 1 1089.88 53.20)" font-size="36.23" fill="#000" stroke="#000" stroke-width="0.4">2</text>
<text transform="matrix(0.8129 0 0 1 1107.45 56.18)" font-size="33.93" fill="#000" stroke="#000" stroke-width="0.4">+</text>
<text transform="matrix(0.6183 0 0 1 294.73 514.30)" font-size="46.66" fill="#2a0c28" stroke="#2a0c28" stroke-width="0.5">F</text>
<text transform="matrix(0.6714 0 0 1 313.77 514.30)" font-size="46.66" fill="#2a0c28" stroke="#2a0c28" stroke-width="0.5">e</text>
<text transform="matrix(0.8186 0 0 1 342.68 514.30)" font-size="46.66" fill="#2a0c28" stroke="#2a0c28" stroke-width="0.5">2</text>
<text transform="matrix(0.7959 0 0 1 364.71 514.30)" font-size="46.66" fill="#2a0c28" stroke="#2a0c28" stroke-width="0.5">p</text>
<path d="M407.2,482.2 L410.8,482.2 L410.8,514.3 L407.2,514.3 L407.2,489.6 L399.9,489.6 L399.9,486.6 Q404.6,486.4 407.2,482.2 Z" fill="#2a0c28"/>
<text transform="matrix(0.8872 0 0 1 416.60 514.30)" font-size="46.66" fill="#2a0c28" stroke="#2a0c28" stroke-width="0.5">/</text>
<text transform="matrix(0.8186 0 0 1 430.08 514.30)" font-size="46.66" fill="#2a0c28" stroke="#2a0c28" stroke-width="0.5">2</text>
<text transform="matrix(0.6557 0 0 1 915.38 454.20)" font-size="46.80" fill="#2a0c28" stroke="#2a0c28" stroke-width="0.5">F</text>
<text transform="matrix(0.6830 0 0 1 934.24 454.20)" font-size="46.80" fill="#2a0c28" stroke="#2a0c28" stroke-width="0.5">e</text>
<text transform="matrix(0.8020 0 0 1 963.61 454.20)" font-size="46.80" fill="#2a0c28" stroke="#2a0c28" stroke-width="0.5">2</text>
<text transform="matrix(0.8695 0 0 1 982.68 454.20)" font-size="46.80" fill="#2a0c28" stroke="#2a0c28" stroke-width="0.5">p</text>
<text transform="matrix(0.7661 0 0 1 1017.23 454.20)" font-size="46.80" fill="#2a0c28" stroke="#2a0c28" stroke-width="0.5">3</text>
<text transform="matrix(0.8383 0 0 1 1038.30 454.20)" font-size="46.80" fill="#2a0c28" stroke="#2a0c28" stroke-width="0.5">/</text>
<text transform="matrix(0.7973 0 0 1 1051.42 454.20)" font-size="46.80" fill="#2a0c28" stroke="#2a0c28" stroke-width="0.5">2</text>
<text transform="matrix(0.6800 0 0 1 582.15 522.40)" font-size="51.16" fill="#2a0c28" letter-spacing="1.764" stroke="#2a0c28" stroke-width="0.5">Fe</text>
<text transform="matrix(0.8128 0 0 1 625.66 504.07)" font-size="33.47" fill="#2a0c28" stroke="#2a0c28" stroke-width="0.4">3</text>
<text transform="matrix(0.9178 0 0 1 641.05 507.24)" font-size="32.29" fill="#2a0c28" stroke="#2a0c28" stroke-width="0.4">+</text>
<text transform="matrix(0.8396 0 0 1 660.77 522.36)" font-size="48.52" fill="#2a0c28" stroke="#2a0c28" stroke-width="0.4">(</text>
<text transform="matrix(0.7396 0 0 1 676.65 522.40)" font-size="51.16" fill="#2a0c28" stroke="#2a0c28" stroke-width="0.5">s</text>
<text transform="matrix(0.6811 0 0 1 695.62 522.40)" font-size="51.16" fill="#2a0c28" stroke="#2a0c28" stroke-width="0.5">a</text>
<text transform="matrix(0.9873 0 0 1 716.44 522.40)" font-size="51.16" fill="#2a0c28" stroke="#2a0c28" stroke-width="0.5">t</text>
<text transform="matrix(1.0264 0 0 1 729.61 522.40)" font-size="51.16" fill="#2a0c28" stroke="#2a0c28" stroke-width="0.5">.</text>
<text transform="matrix(0.7774 0 0 1 744.98 522.36)" font-size="48.52" fill="#2a0c28" stroke="#2a0c28" stroke-width="0.4">)</text>
<text transform="matrix(0.9892 0 0 1 45.66 645.30)" font-size="52.04" fill="#000" stroke="#000" stroke-width="0.4">7</text>
<text transform="matrix(0.9719 0 0 1 70.03 644.81)" font-size="50.56" fill="#000" stroke="#000" stroke-width="0.4">3</text>
<text transform="matrix(1.0012 0 0 1 93.92 644.81)" font-size="50.56" fill="#000" stroke="#000" stroke-width="0.4">0</text>
<text transform="matrix(0.9765 0 0 1 290.29 645.30)" font-size="52.04" fill="#000" stroke="#000" stroke-width="0.4">7</text>
<text transform="matrix(1.0275 0 0 1 313.55 645.30)" font-size="51.27" fill="#000" stroke="#000" stroke-width="0.4">2</text>
<text transform="matrix(0.9414 0 0 1 338.67 644.80)" font-size="51.31" fill="#000" stroke="#000" stroke-width="0.4">5</text>
<text transform="matrix(0.9765 0 0 1 534.39 645.30)" font-size="52.04" fill="#000" stroke="#000" stroke-width="0.4">7</text>
<text transform="matrix(0.9847 0 0 1 557.76 645.30)" font-size="51.27" fill="#000" stroke="#000" stroke-width="0.4">2</text>
<text transform="matrix(0.9598 0 0 1 583.90 644.81)" font-size="50.56" fill="#000" stroke="#000" stroke-width="0.4">0</text>
<text transform="matrix(1.0146 0 0 1 779.19 645.30)" font-size="52.04" fill="#000" stroke="#000" stroke-width="0.4">7</text>
<path d="M816.2,609.2 L820.8,609.2 L820.8,644.5 L816.2,644.5 L816.2,618.8 L806.7,618.8 L806.7,615.7 Q813.2,615.3 816.2,609.2 Z" fill="#000"/>
<text transform="matrix(0.9702 0 0 1 826.01 644.80)" font-size="51.31" fill="#000" stroke="#000" stroke-width="0.4">5</text>
<text transform="matrix(1.0146 0 0 1 1022.29 645.30)" font-size="52.04" fill="#000" stroke="#000" stroke-width="0.4">7</text>
<path d="M1065.7,609.2 L1070.3,609.2 L1070.3,644.5 L1065.7,644.5 L1065.7,618.8 L1055.8,618.8 L1055.8,615.7 Q1062.3,615.3 1065.7,609.2 Z" fill="#000"/>
<text transform="matrix(0.9764 0 0 1 1081.97 644.81)" font-size="50.56" fill="#000" stroke="#000" stroke-width="0.4">0</text>
<text transform="matrix(1.0526 0 0 1 1265.89 645.30)" font-size="52.04" fill="#000" stroke="#000" stroke-width="0.4">7</text>
<text transform="matrix(0.9640 0 0 1 1291.70 644.81)" font-size="50.56" fill="#000" stroke="#000" stroke-width="0.4">0</text>
<text transform="matrix(0.9578 0 0 1 1315.73 644.80)" font-size="51.31" fill="#000" stroke="#000" stroke-width="0.4">5</text>
<text transform="matrix(0.6800 0 0 1 510.52 726.00)" font-size="60.61" fill="#000" letter-spacing="1.261" stroke="#000" stroke-width="0.5">Bingding Engergy (eV)</text>
<g transform="translate(59.3 493.4) rotate(-90)">
<text transform="matrix(0.6800 0 0 1 -3.34 0.00)" font-size="53.20" fill="#000" letter-spacing="5.219" stroke="#000" stroke-width="0.5">Intensity (arb.units)</text>
</g>
</svg></body></html>
